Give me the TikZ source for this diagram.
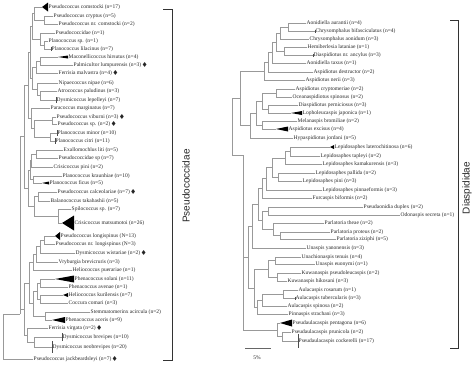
\documentclass[tikz,border=0pt]{standalone}
\usepackage{fontspec}
\setmainfont{Liberation Serif}
\setsansfont{Liberation Sans}
\usepackage{amssymb}
\newcommand{\mk}{\,$\blacklozenge$}

\begin{document}
\begin{tikzpicture}[x=1pt,y=-1pt,
	leaf/.style={anchor=west,inner sep=0.5pt,text=black!85,font=\fontsize{5.5}{6}\selectfont},
	br/.style={draw=black!40,line width=0.5pt},
	bar/.style={draw=black!70,line width=0.6pt},
	brk/.style={draw=black!80,line width=0.9pt},
	fam/.style={rotate=90,inner sep=0pt,text=black!85,font=\sffamily\fontsize{10}{12}\selectfont}]
	\useasboundingbox (0,0) rectangle (474,365);

	%%%% Pseudococcidae %%%%
	%leaves
	\node[leaf] (p1) at (48,7) {Pseudococcus comstocki (n=17)};
	\node[leaf] (p2) at (53,16) {Pseudococcus cryptus (n=5)};
	\node[leaf] (p3) at (58,24) {Pseudococcus nr. comstocki (n=2)};
	\node[leaf] (p4) at (55,33) {Pseudococcidae (n=1)};
	\node[leaf] (p5) at (48,41) {Planococcus sp. (n=1)};
	\node[leaf] (p6) at (51,49) {Planococcus lilacinus (n=7)};
	\node[leaf] (p7) at (68,57) {Maconellicoccus hirsutus (n=4)};
	\node[leaf] (p8) at (73,65) {Palmicultor lumpurensis (n=3)\mk};
	\node[leaf] (p9) at (58,73) {Ferrisia malvastra (n=4)\mk};
	\node[leaf] (p10) at (58,83) {Nipaecoccus nipae (n=6)};
	\node[leaf] (p11) at (57,91) {Atrococcus paludinus (n=3)};
	\node[leaf] (p12) at (56,100) {Dysmicoccus lepelleyi (n=7)};
	\node[leaf] (p13) at (50,108) {Paracoccus marginatus (n=7)};
	\node[leaf] (p14) at (56,117) {Pseudococcus viburni (n=3)\mk};
	\node[leaf] (p15) at (57,124) {Pseudococcus sp. (n=2)\mk};
	\node[leaf] (p16) at (57,133) {Planococcus minor (n=10)};
	\node[leaf] (p17) at (55,141) {Planococcus citri (n=11)};
	\node[leaf] (p18) at (63,150) {Exallomochlus liti (n=5)};
	\node[leaf] (p19) at (58,158) {Pseudococcidae sp (n=7)};
	\node[leaf] (p20) at (53,167) {Crisicoccus pini (n=2)};
	\node[leaf] (p21) at (62,176) {Planococcus kraunhiae (n=10)};
	\node[leaf] (p22) at (49,183) {Planococcus ficus (n=5)};
	\node[leaf] (p23) at (57,192) {Pseudococcus calceolariae (n=7)\mk};
	\node[leaf] (p24) at (50,201) {Balanococcus takahashii (n=5)};
	\node[leaf] (p25) at (71,209) {Spilococcus sp. (n=7)};
	\node[leaf] (p26) at (74,223) {Crisicoccus matsumotoi (n=26)};
	\node[leaf] (p27) at (60,236) {Pseudococcus longispinus (N=13)};
	\node[leaf] (p28) at (55,244) {Pseudococcus nr. longispinus (N=3)};
	\node[leaf] (p29) at (75,253) {Dysmicoccus wistariae (n=2)\mk};
	\node[leaf] (p30) at (58,262) {Vryburgia brevicruris (n=3)};
	\node[leaf] (p31) at (72,270) {Heliococcus puerariae (n=1)};
	\node[leaf] (p32) at (74,279) {Phenacoccus solani (n=11)};
	\node[leaf] (p33) at (68,287) {Phenacoccus avenae (n=1)};
	\node[leaf] (p34) at (68,295) {Heliococcus kurilensis (n=7)};
	\node[leaf] (p35) at (68,303) {Coccura comari (n=3)};
	\node[leaf] (p36) at (90,312) {Stemmatomerinx acircula (n=2)};
	\node[leaf] (p37) at (65,320) {Phenacoccus aceris (n=9)};
	\node[leaf] (p38) at (48,328) {Ferrisia virgata (n=2)\mk};
	\node[leaf] (p39) at (62,337) {Dysmicoccus brevipes (n=10)};
	\node[leaf] (p40) at (52,347) {Dysmicoccus neobrevipes (n=20)};
	\node[leaf] (p41) at (33,359) {Pseudococcus jackbeardsleyi (n=7)\mk};

	%collapsed clades
	\coordinate (t1) at (42,7);
	\coordinate (t7) at (58,57);
	\coordinate (t22) at (42,183);
	\coordinate (t26) at (62,223);
	\coordinate (t27) at (55,236);
	\coordinate (t32) at (55,279);
	\coordinate (t34) at (63,295);
	\coordinate (t37) at (52,320);
	\fill (t1) -- ([yshift=4.5pt]p1.west) -- ([yshift=-4.5pt]p1.west) -- cycle;
	\fill (t7) -- ([yshift=1.5pt]p7.west) -- ([yshift=-1.5pt]p7.west) -- cycle;
	\fill (t22) -- ([yshift=1.5pt]p22.west) -- ([yshift=-1.5pt]p22.west) -- cycle;
	\fill (t26) -- ([yshift=7.5pt]p26.west) -- ([yshift=-7.5pt]p26.west) -- cycle;
	\fill (t27) -- ([yshift=4pt]p27.west) -- ([yshift=-4pt]p27.west) -- cycle;
	\fill (t32) -- ([yshift=3.5pt]p32.west) -- ([yshift=-3.5pt]p32.west) -- cycle;
	\fill (t34) -- ([yshift=2pt]p34.west) -- ([yshift=-2pt]p34.west) -- cycle;
	\fill (t37) -- ([yshift=3pt]p37.west) -- ([yshift=-3pt]p37.west) -- cycle;
	\foreach \p/\h in {p6/2,p12/3,p16/3,p17/3,p39/4,p40/6}
		\draw[bar] ([yshift=\h pt]\p.west) -- ([yshift=-\h pt]\p.west);

	%internal nodes
	\coordinate (a1b) at (44,20);
	\coordinate (a1) at (34,13.5);
	\coordinate (a2b) at (44,45);
	\coordinate (a2) at (40,39);
	\coordinate (nA) at (32,26);
	\coordinate (b1a) at (40,61);
	\coordinate (b1) at (36,67);
	\coordinate (b2a) at (40,95.5);
	\coordinate (b2) at (37,89);
	\coordinate (nB) at (32,78);
	\coordinate (nAB) at (30,52);
	\coordinate (c1) at (52,120.5);
	\coordinate (c2) at (50,137);
	\coordinate (nC) at (34,128.5);
	\coordinate (nCD) at (31,118);
	\coordinate (nU1) at (28,85);
	\coordinate (d1) at (36,154);
	\coordinate (nD) at (31,160);
	\coordinate (nE) at (33,179.5);
	\coordinate (nDE) at (30,170);
	\coordinate (f1) at (38,196.5);
	\coordinate (f2) at (58,216);
	\coordinate (nF) at (34,206);
	\coordinate (nU2) at (28,188);
	\coordinate (nUp) at (24,136);
	\coordinate (g1) at (44,240);
	\coordinate (g2) at (40,246.5);
	\coordinate (g3) at (36,254);
	\coordinate (nG) at (33,262);
	\coordinate (h1) at (40,283);
	\coordinate (h2) at (40,299);
	\coordinate (h12) at (37,291);
	\coordinate (h3) at (45,316);
	\coordinate (nH) at (33,303);
	\coordinate (nGH) at (29,283);
	\coordinate (i1) at (34,342);
	\coordinate (nI) at (27,335);
	\coordinate (nLo) at (24,309);
	\coordinate (nMain) at (20,314);
	\coordinate (rootP) at (3,336);

	%branches
	\draw[br] (a1) |- (t1) (a1) |- (a1b) (a1b) |- (p2.west) (a1b) |- (p3.west);
	\draw[br] (a2) |- (p4.west) (a2) |- (a2b) (a2b) |- (p5.west) (a2b) |- (p6.west);
	\draw[br] (nA) |- (a1) (nA) |- (a2);
	\draw[br] (b1a) |- (t7) (b1a) |- (p8.west) (b1) |- (b1a) (b1) |- (p9.west);
	\draw[br] (b2a) |- (p11.west) (b2a) |- (p12.west) (b2) |- (p10.west) (b2) |- (b2a);
	\draw[br] (nB) |- (b1) (nB) |- (b2) (nAB) |- (nA) (nAB) |- (nB);
	\draw[br] (c1) |- (p14.west) (c1) |- (p15.west) (c2) |- (p16.west) (c2) |- (p17.west);
	\draw[br] (nC) |- (c1) (nC) |- (c2) (nCD) |- (p13.west) (nCD) |- (nC);
	\draw[br] (nU1) |- (nAB) (nU1) |- (nCD);
	\draw[br] (d1) |- (p18.west) (d1) |- (p19.west) (nD) |- (d1) (nD) |- (p20.west);
	\draw[br] (nE) |- (p21.west) (nE) |- (t22) (nDE) |- (nD) (nDE) |- (nE);
	\draw[br] (f1) |- (p23.west) (f1) |- (p24.west) (f2) |- (p25.west) (f2) |- (t26);
	\draw[br] (nF) |- (f1) (nF) |- (f2) (nU2) |- (nDE) (nU2) |- (nF);
	\draw[br] (nUp) |- (nU1) (nUp) |- (nU2);
	\draw[br] (g1) |- (t27) (g1) |- (p28.west) (g2) |- (g1) (g2) |- (p29.west);
	\draw[br] (g3) |- (g2) (g3) |- (p30.west) (nG) |- (g3) (nG) |- (p31.west);
	\draw[br] (h1) |- (t32) (h1) |- (p33.west) (h2) |- (t34) (h2) |- (p35.west);
	\draw[br] (h12) |- (h1) (h12) |- (h2) (h3) |- (p36.west) (h3) |- (t37);
	\draw[br] (nH) |- (h12) (nH) |- (h3) (nGH) |- (nG) (nGH) |- (nH);
	\draw[br] (i1) |- (p39.west) (i1) |- (p40.west) (nI) |- (p38.west) (nI) |- (i1);
	\draw[br] (nLo) |- (nGH) (nLo) |- (nI);
	\draw[br] (nMain) |- (nUp) (nMain) |- (nLo);
	\draw[br] (rootP) |- (nMain) (rootP) |- (p41.west);

	%family bracket
	\coordinate (bp1) at (163,9);
	\coordinate (bp2) at (163,360);
	\draw[brk] (bp1) -- ++(9,0) coordinate (bp3) -- (bp3 |- bp2) -- (bp2);
	\node[fam] (famP) at (186,186) {Pseudococcidae};

	%%%% Diaspididae %%%%
	%leaves
	\node[leaf] (q1) at (306,23) {Aonidiella aurantii (n=4)};
	\node[leaf] (q2) at (315,31) {Chrysomphalus bifasciculatus (n=4)};
	\node[leaf] (q3) at (309,39) {Chrysomphalus aonidum (n=3)};
	\node[leaf] (q4) at (307,47) {Hemiberlesia lataniae (n=1)};
	\node[leaf] (q5) at (313,55) {Diaspidiotus nr. ancylus (n=3)};
	\node[leaf] (q6) at (306,63) {Aonidiella taxus (n=1)};
	\node[leaf] (q7) at (313,72) {Aspidiotus destructor (n=2)};
	\node[leaf] (q8) at (305,80) {Aspidiotus nerii (n=3)};
	\node[leaf] (q9) at (295,89) {Aspidiotus cryptomeriae (n=2)};
	\node[leaf] (q10) at (292,97) {Oceanaspidiotus spinosus (n=2)};
	\node[leaf] (q11) at (298,105) {Diaspidiotus perniciosus (n=3)};
	\node[leaf] (q12) at (302,113) {Lopholeucaspis japonica (n=1)};
	\node[leaf] (q13) at (297,121) {Melanaspis bromiliae (n=2)};
	\node[leaf] (q14) at (288,129) {Aspidiotus excisus (n=4)};
	\node[leaf] (q15) at (293,138) {Hypaspidiotus jordani (n=5)};
	\node[leaf] (q16) at (334,147) {Lepidosaphes laterochitinosa (n=6)};
	\node[leaf] (q17) at (320,156) {Lepidosaphes tapleyi (n=2)};
	\node[leaf] (q18) at (322,164) {Lepidosaphes kamakurensis (n=3)};
	\node[leaf] (q19) at (315,173) {Lepidosaphes pallida (n=2)};
	\node[leaf] (q20) at (302,181) {Lepidosaphes pini (n=3)};
	\node[leaf] (q21) at (322,190) {Lepidosaphes pinnaeformis (n=3)};
	\node[leaf] (q22) at (312,198) {Furcaspis biformis (n=2)};
	\node[leaf] (q23) at (363,207) {Pseudaonidia duplex (n=2)};
	\node[leaf] (q24) at (400,215) {Odonaspis secreta (n=1)};
	\node[leaf] (q25) at (324,223) {Parlatoria theae (n=2)};
	\node[leaf] (q26) at (330,232) {Parlatoria proteus (n=2)};
	\node[leaf] (q27) at (336,239) {Parlatoria ziziphi (n=5)};
	\node[leaf] (q28) at (306,248) {Unaspis yanonensis (n=3)};
	\node[leaf] (q29) at (301,257) {Unachionaspis tenuis (n=4)};
	\node[leaf] (q30) at (315,264) {Unaspis euonymi (n=1)};
	\node[leaf] (q31) at (301,273) {Kuwanaspis pseudoleucaspis (n=2)};
	\node[leaf] (q32) at (287,281) {Kuwanaspis hikosani (n=3)};
	\node[leaf] (q33) at (298,290) {Aulacaspis rosarum (n=1)};
	\node[leaf] (q34) at (295,298) {Aulacaspis tubercularis (n=3)};
	\node[leaf] (q35) at (287,306) {Aulacaspis spinosa (n=2)};
	\node[leaf] (q36) at (288,314) {Pinnaspis strachani (n=3)};
	\node[leaf] (q37) at (292,323) {Pseudaulacaspis pentagona (n=6)};
	\node[leaf] (q38) at (291,332) {Pseudaulacaspis prunicola (n=2)};
	\node[leaf] (q39) at (298,341) {Pseudaulacaspis cockerelli (n=17)};

	%collapsed clades
	\coordinate (u12) at (291,113);
	\coordinate (u14) at (276,129);
	\coordinate (u16) at (330,147);
	\coordinate (u37) at (280,323);
	\fill (u12) -- ([yshift=2pt]q12.west) -- ([yshift=-2pt]q12.west) -- cycle;
	\fill (u14) -- ([yshift=2.5pt]q14.west) -- ([yshift=-2.5pt]q14.west) -- cycle;
	\fill (u16) -- ([yshift=2pt]q16.west) -- ([yshift=-2pt]q16.west) -- cycle;
	\fill (u37) -- ([yshift=3.5pt]q37.west) -- ([yshift=-3.5pt]q37.west) -- cycle;
	\foreach \q/\h in {q2/1.5,q5/1.5,q34/1.5,q39/7}
		\draw[bar] ([yshift=\h pt]\q.west) -- ([yshift=-\h pt]\q.west);

	%internal nodes
	\coordinate (r1) at (288,27);
	\coordinate (r2) at (280,33);
	\coordinate (r3) at (284,51);
	\coordinate (r4) at (276,42);
	\coordinate (r5) at (272,52.5);
	\coordinate (r6) at (268,62);
	\coordinate (r7) at (264,71);
	\coordinate (r8) at (276,93);
	\coordinate (r9) at (268,109);
	\coordinate (r10) at (262,101);
	\coordinate (r11) at (262,125);
	\coordinate (r12) at (256,113);
	\coordinate (r14) at (250,125.5);
	\coordinate (nAsp) at (240,98);
	\coordinate (l1) at (290,151.5);
	\coordinate (l2) at (285,158);
	\coordinate (l3) at (278,177);
	\coordinate (l4) at (272,167);
	\coordinate (l5) at (266,178.5);
	\coordinate (l6) at (262,188);
	\coordinate (np) at (268,211);
	\coordinate (pa1) at (280,235.5);
	\coordinate (pa) at (273,229.5);
	\coordinate (nq) at (262,220);
	\coordinate (nB1) at (258,204);
	\coordinate (nB2) at (252,226);
	\coordinate (nu1) at (275,260.5);
	\coordinate (nu2) at (277,277);
	\coordinate (nun) at (268,269);
	\coordinate (au1) at (283,294);
	\coordinate (au2) at (262,300);
	\coordinate (au3) at (257,307);
	\coordinate (nB3) at (254,288);
	\coordinate (nB4) at (248,257);
	\coordinate (ps1) at (282,336.5);
	\coordinate (ps) at (277,330);
	\coordinate (nDia) at (243,155);
	\coordinate (rootD) at (232,120);

	%branches
	\draw[br] (r1) |- (q1.west) (r1) |- (q2.west) (r2) |- (r1) (r2) |- (q3.west);
	\draw[br] (r3) |- (q4.west) (r3) |- (q5.west) (r4) |- (r2) (r4) |- (r3);
	\draw[br] (r5) |- (r4) (r5) |- (q6.west) (r6) |- (r5) (r6) |- (q7.west);
	\draw[br] (r7) |- (r6) (r7) |- (q8.west);
	\draw[br] (r8) |- (q9.west) (r8) |- (q10.west) (r9) |- (q11.west) (r9) |- (u12);
	\draw[br] (r10) |- (r8) (r10) |- (r9) (r11) |- (q13.west) (r11) |- (u14);
	\draw[br] (r12) |- (r10) (r12) |- (r11) (r14) |- (r12) (r14) |- (q15.west);
	\draw[br] (nAsp) |- (r7) (nAsp) |- (r14);
	\draw[br] (l1) |- (u16) (l1) |- (q17.west) (l2) |- (l1) (l2) |- (q18.west);
	\draw[br] (l3) |- (q19.west) (l3) |- (q20.west) (l4) |- (l2) (l4) |- (l3);
	\draw[br] (l5) |- (l4) (l5) |- (q21.west) (l6) |- (l5) (l6) |- (q22.west);
	\draw[br] (np) |- (q23.west) (np) |- (q24.west) (pa1) |- (q26.west) (pa1) |- (q27.west);
	\draw[br] (pa) |- (q25.west) (pa) |- (pa1) (nq) |- (np) (nq) |- (pa);
	\draw[br] (nB1) |- (l6) (nB1) |- (nq) (nB2) |- (nB1) (nB2) |- (q28.west);
	\draw[br] (nu1) |- (q29.west) (nu1) |- (q30.west) (nu2) |- (q31.west) (nu2) |- (q32.west);
	\draw[br] (nun) |- (nu1) (nun) |- (nu2);
	\draw[br] (au1) |- (q33.west) (au1) |- (q34.west) (au2) |- (au1) (au2) |- (q35.west);
	\draw[br] (au3) |- (au2) (au3) |- (q36.west) (nB3) |- (nun) (nB3) |- (au3);
	\draw[br] (nB4) |- (nB2) (nB4) |- (nB3);
	\draw[br] (ps1) |- (q38.west) (ps1) |- (q39.west) (ps) |- (u37) (ps) |- (ps1);
	\draw[br] (nDia) |- (nB4) (nDia) |- (ps);
	\draw[br] (rootD) |- (nAsp) (rootD) |- (nDia);

	%family bracket
	\coordinate (bd1) at (450,20);
	\coordinate (bd2) at (450,348);
	\draw[brk] (bd1) -- ++(8,0) coordinate (bd3) -- (bd3 |- bd2) -- (bd2);
	\node[fam] (famD) at (467,188) {Diaspididae};

	%scale bar
	\coordinate (s1) at (245,348);
	\coordinate (s2) at (271,348);
	\draw[br,draw=black!60] (s1) -- (s2);
	\node[leaf,anchor=north] (sbar) at (257,355) {5\%};
\end{tikzpicture}
\end{document}
